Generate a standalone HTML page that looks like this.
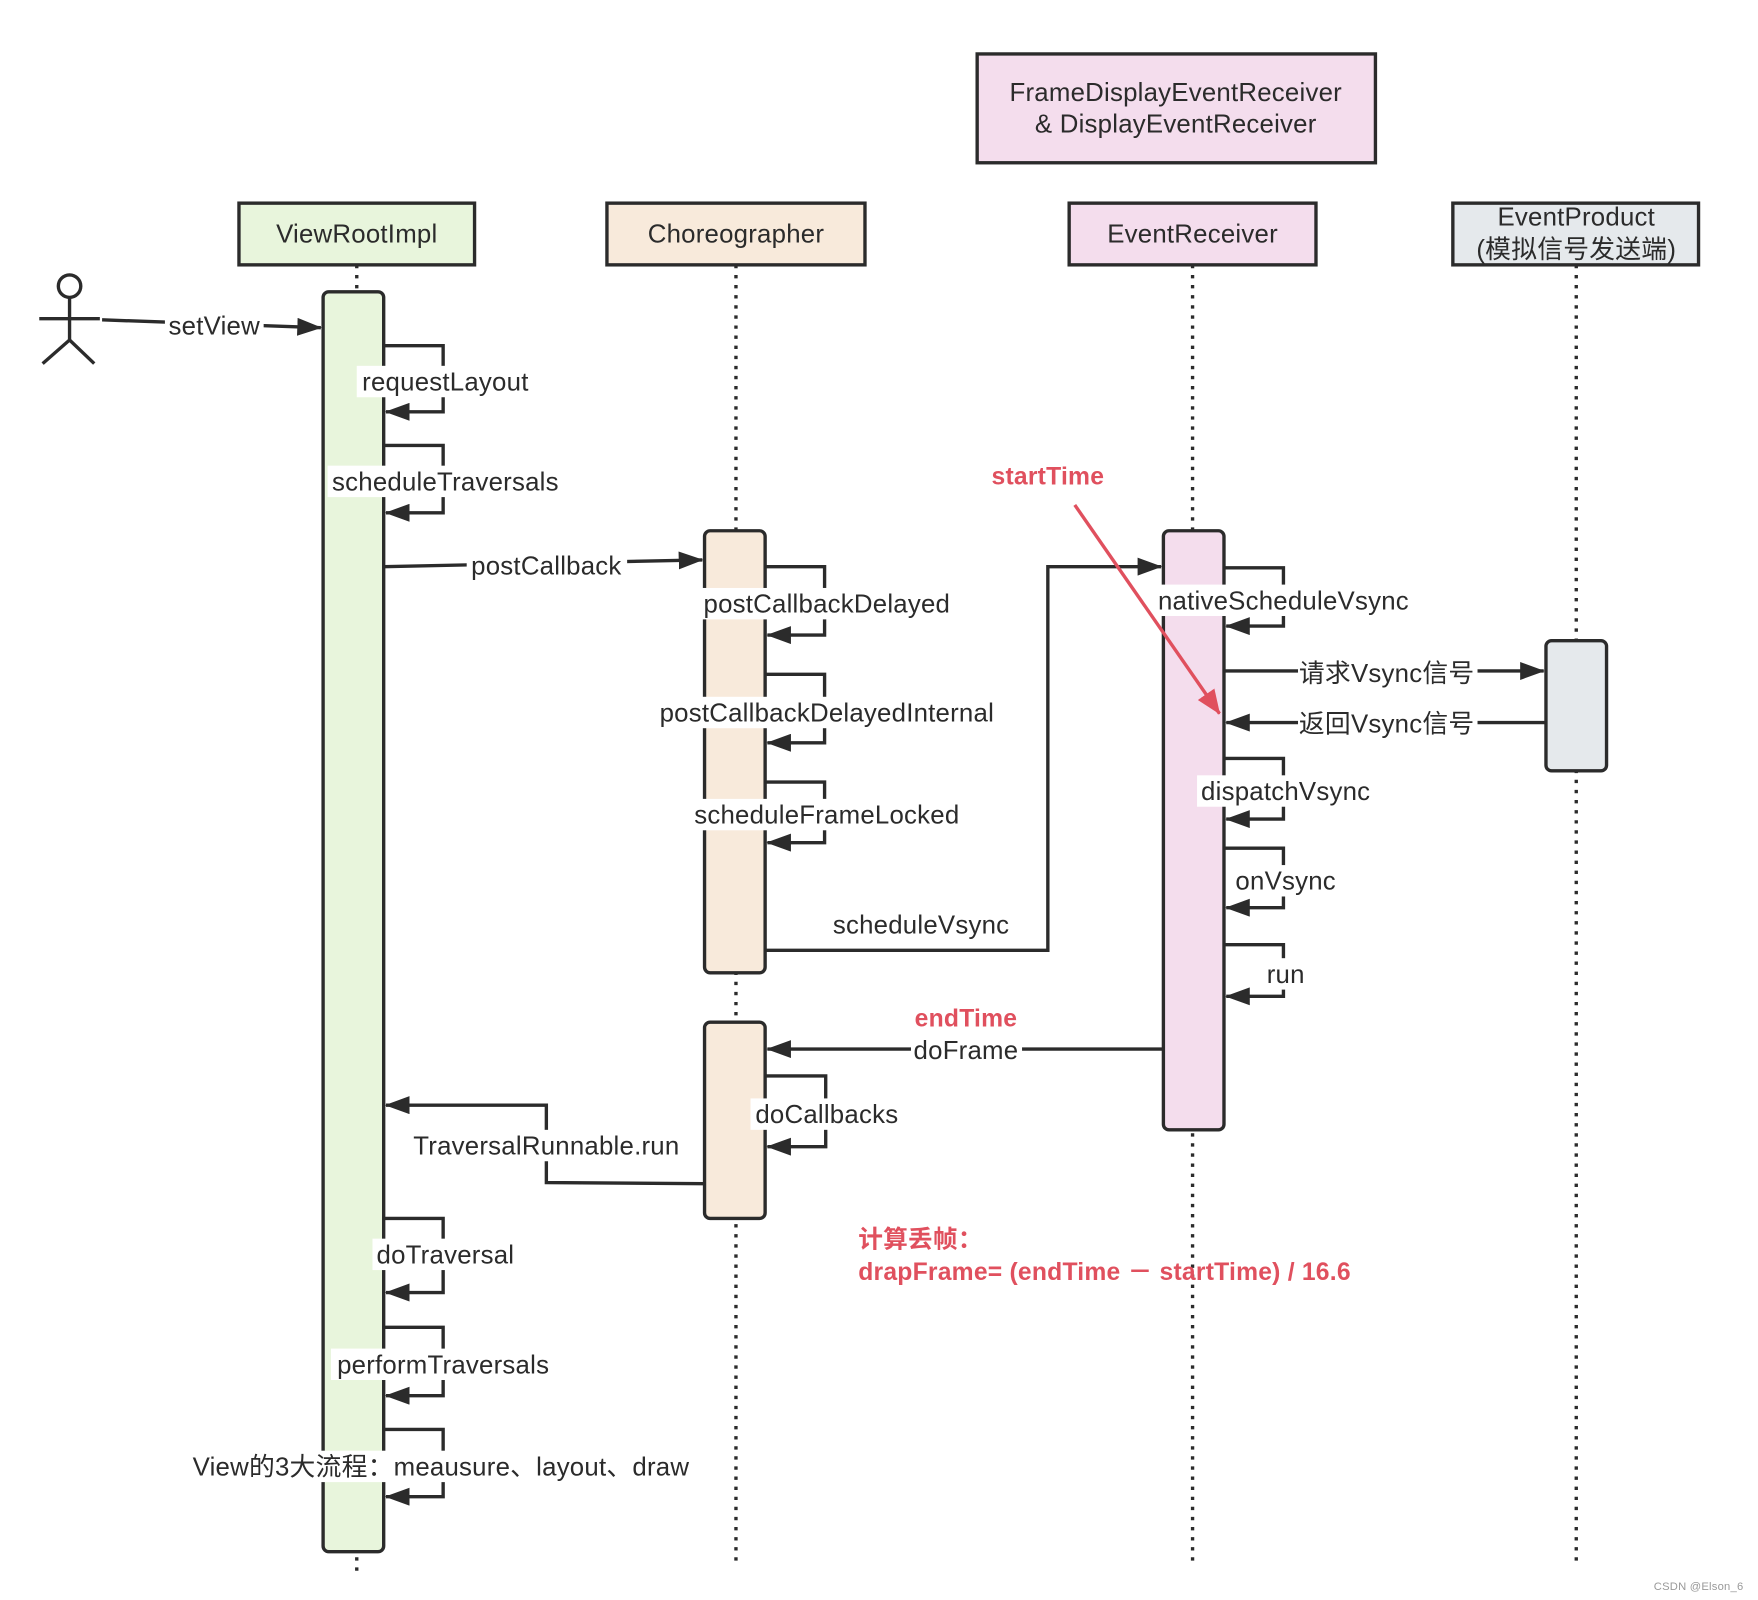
<!DOCTYPE html>
<html><head><meta charset="utf-8"><style>
html,body{margin:0;padding:0;background:#fff;}
svg{display:block;}
text{font-family:"Liberation Sans","Noto Sans CJK SC",sans-serif;font-size:23px;fill:#2b2b2b;letter-spacing:0.2px;}
.r{fill:#e0505e;font-weight:bold;font-size:22px;}
</style></head><body>
<svg width="1758" height="1600" viewBox="0 0 1567 1426" xmlns="http://www.w3.org/2000/svg">
<defs>
<marker id="a" markerWidth="22" markerHeight="16" refX="21" refY="8" orient="auto" markerUnits="userSpaceOnUse"><path d="M0,0 L22,8 L0,16 Z" fill="#2b2b2b"/></marker>
<marker id="ar" markerWidth="22" markerHeight="18" refX="21" refY="9" orient="auto" markerUnits="userSpaceOnUse"><path d="M0,0 L22,9 L0,18 Z" fill="#e0505e"/></marker>
</defs>
<rect width="1567" height="1426" fill="#fff"/>
<g stroke="#2b2b2b" stroke-width="3" stroke-dasharray="3,6">
<line x1="318" y1="236" x2="318" y2="1400"/>
<line x1="656" y1="236" x2="656" y2="1392"/>
<line x1="1063" y1="236" x2="1063" y2="1392"/>
<line x1="1405" y1="236" x2="1405" y2="1392"/>
</g>
<g stroke="#2b2b2b" stroke-width="3">
<rect x="871" y="48" width="355" height="97" fill="#f4dded"/>
<rect x="213" y="181" width="210" height="55" fill="#e8f5dc"/>
<rect x="541" y="181" width="230" height="55" fill="#f8eadb"/>
<rect x="953" y="181" width="220" height="55" fill="#f4dded"/>
<rect x="1295" y="181" width="219" height="55" fill="#e5e9ec"/>
</g>
<g text-anchor="middle">
<text x="1048" y="90">FrameDisplayEventReceiver</text>
<text x="1048" y="118">&amp; DisplayEventReceiver</text>
<text x="318" y="216">ViewRootImpl</text>
<text x="656" y="216">Choreographer</text>
<text x="1063" y="216">EventReceiver</text>
<text x="1405" y="201">EventProduct</text>
<text x="1405" y="230">(模拟信号发送端)</text>
</g>
<g stroke="#2b2b2b" stroke-width="3">
<rect x="288" y="260" width="54" height="1123" rx="5" fill="#e8f5dc"/>
<rect x="628" y="473" width="54" height="394" rx="5" fill="#f8eadb"/>
<rect x="628" y="911" width="54" height="175" rx="5" fill="#f8eadb"/>
<rect x="1037" y="473" width="54" height="534" rx="5" fill="#f4dded"/>
<rect x="1378" y="571" width="54" height="116" rx="5" fill="#e5e9ec"/>
</g>
<g stroke="#2b2b2b" stroke-width="3" fill="none">
<circle cx="62" cy="255" r="10"/>
<line x1="62" y1="265" x2="62" y2="303"/>
<line x1="35" y1="284" x2="89" y2="284"/>
<line x1="62" y1="303" x2="38" y2="324"/>
<line x1="62" y1="303" x2="84" y2="324"/>
</g>
<g stroke="#2b2b2b" stroke-width="3" fill="none">
<path d="M91,285 L286,292" marker-end="url(#a)"/>
<path d="M342,308 H395 V367 H344" marker-end="url(#a)"/>
<path d="M342,397 H395 V457 H344" marker-end="url(#a)"/>
<path d="M342,505 L626,499" marker-end="url(#a)"/>
<path d="M682,505 H735 V566 H684" marker-end="url(#a)"/>
<path d="M682,601 H735 V662 H684" marker-end="url(#a)"/>
<path d="M682,697 H735 V751 H684" marker-end="url(#a)"/>
<path d="M682,847 H934 V505 H1035" marker-end="url(#a)"/>
<path d="M1091,506 H1144 V558 H1093" marker-end="url(#a)"/>
<path d="M1091,598 H1376" marker-end="url(#a)"/>
<path d="M1378,644 H1093" marker-end="url(#a)"/>
<path d="M1091,676 H1144 V730 H1093" marker-end="url(#a)"/>
<path d="M1091,756 H1144 V809 H1093" marker-end="url(#a)"/>
<path d="M1091,842 H1144 V888 H1093" marker-end="url(#a)"/>
<path d="M1037,935 H684" marker-end="url(#a)"/>
<path d="M682,959 H736 V1022 H684" marker-end="url(#a)"/>
<path d="M628,1055 L487,1054 V985 H344" marker-end="url(#a)"/>
<path d="M342,1086 H395 V1152 H344" marker-end="url(#a)"/>
<path d="M342,1183 H395 V1244 H344" marker-end="url(#a)"/>
<path d="M342,1274 H395 V1334 H344" marker-end="url(#a)"/>
</g>
<path d="M958,450 L1087,636" stroke="#e0505e" stroke-width="3" fill="none" marker-end="url(#ar)"/>
<g fill="#fff">
<rect x="147" y="278" width="88" height="26"/>
<rect x="318" y="326" width="158" height="28"/>
<rect x="292" y="415" width="210" height="28"/>
<rect x="416" y="490" width="143" height="28"/>
<rect x="622" y="524" width="230" height="28"/>
<rect x="582" y="621" width="310" height="28"/>
<rect x="614" y="712" width="246" height="28"/>
<rect x="1030" y="521" width="230" height="28"/>
<rect x="1157" y="586" width="160" height="28"/>
<rect x="1157" y="631" width="160" height="28"/>
<rect x="1067" y="691" width="160" height="28"/>
<rect x="1099" y="771" width="94" height="28"/>
<rect x="1127" y="854" width="40" height="28"/>
<rect x="812" y="922" width="99" height="28"/>
<rect x="669" y="979" width="136" height="28"/>
<rect x="366" y="1007" width="243" height="28"/>
<rect x="332" y="1104" width="131" height="28"/>
<rect x="295" y="1202" width="201" height="28"/>
<rect x="166" y="1293" width="456" height="28"/>
</g>
<g text-anchor="middle">
<text x="191" y="298">setView</text>
<text x="397" y="348">requestLayout</text>
<text x="397" y="437">scheduleTraversals</text>
<text x="487" y="512">postCallback</text>
<text x="737" y="546">postCallbackDelayed</text>
<text x="737" y="643">postCallbackDelayedInternal</text>
<text x="737" y="734">scheduleFrameLocked</text>
<text x="821" y="832">scheduleVsync</text>
<text x="1144" y="543">nativeScheduleVsync</text>
<text x="1236" y="608">请求Vsync信号</text>
<text x="1236" y="653">返回Vsync信号</text>
<text x="1146" y="713">dispatchVsync</text>
<text x="1146" y="793">onVsync</text>
<text x="1146" y="876">run</text>
<text x="861" y="944">doFrame</text>
<text x="737" y="1001">doCallbacks</text>
<text x="487" y="1029">TraversalRunnable.run</text>
<text x="397" y="1126">doTraversal</text>
<text x="395" y="1224">performTraversals</text>
<text x="393" y="1315">View的3大流程：meausure、layout、draw</text>
<text class="r" x="934" y="432">startTime</text>
<text class="r" x="861" y="915">endTime</text>
</g>
<text class="r" x="765" y="1112">计算丢帧：</text>
<text class="r" x="765" y="1141">drapFrame= (endTime － startTime) / 16.6</text>
<text x="1554" y="1417" text-anchor="end" style="font-size:10px;fill:#999">CSDN @Elson_6</text>
</svg>
</body></html>
